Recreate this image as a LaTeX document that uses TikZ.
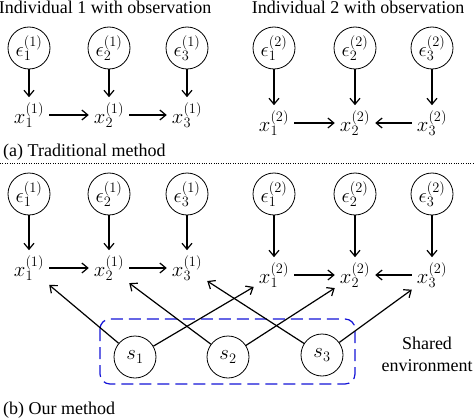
\documentclass[tikz,border=0pt]{standalone}
\usepackage{fontspec}
\setmainfont{Liberation Serif}
\usetikzlibrary{arrows.meta}
\definecolor{envblue}{RGB}{20,20,215}

\begin{document}
\begin{tikzpicture}[x=1pt, y=-1pt,
    var/.style={circle, draw, line width=0.8pt, minimum size=42pt, inner sep=0pt, font=\fontsize{20}{22}\selectfont},
    obs/.style={inner sep=5pt, font=\fontsize{21}{23}\selectfont},
    edge/.style={-{Straight Barb[length=6pt,width=10pt]}, line width=1.2pt},
    txt/.style={font=\fontsize{18}{22}\selectfont, inner sep=0pt}]
    \useasboundingbox (0,0) rectangle (474,420);

    % (a) traditional method
    \node[txt] (titlea) at (105,7) {Individual 1 with observation};
    \node[txt] (titleb) at (358,7) {Individual 2 with observation};
    \foreach \i/\px in {1/29,2/109,3/187} {
        \node[var] (ea\i) at (\px,48) {$\epsilon^{(1)}_{\i}$};
        \node[obs] (xa\i) at (\px,115) {$x^{(1)}_{\i}$};
        \draw[edge] (ea\i) -- (xa\i);
    }
    \foreach \i/\px in {1/274,2/355,3/432} {
        \node[var] (eb\i) at (\px,48) {$\epsilon^{(2)}_{\i}$};
        \node[obs] (xb\i) at (\px,123) {$x^{(2)}_{\i}$};
        \draw[edge] (eb\i) -- (xb\i);
    }
    \draw[edge] (xa1) -- (xa2);
    \draw[edge] (xa2) -- (xa3);
    \draw[edge] (xb1) -- (xb2);
    \draw[edge] (xb3) -- (xb2);
    \node[txt, anchor=west] (capa) at (3,152) {(a) Traditional method};

    \draw[dotted] (0,163) -- (474,163);

    % (b) our method
    \foreach \i/\px in {1/29,2/109,3/187} {
        \node[var] (ec\i) at (\px,194) {$\epsilon^{(1)}_{\i}$};
        \node[obs] (xc\i) at (\px,268) {$x^{(1)}_{\i}$};
        \draw[edge] (ec\i) -- (xc\i);
    }
    \foreach \i/\px in {1/274,2/355,3/432} {
        \node[var] (ed\i) at (\px,194) {$\epsilon^{(2)}_{\i}$};
        \node[obs] (xd\i) at (\px,275) {$x^{(2)}_{\i}$};
        \draw[edge] (ed\i) -- (xd\i);
    }
    \draw[edge] (xc1) -- (xc2);
    \draw[edge] (xc2) -- (xc3);
    \draw[edge] (xd1) -- (xd2);
    \draw[edge] (xd3) -- (xd2);

    \draw[envblue, line width=1.2pt, dash pattern=on 12pt off 6pt, rounded corners=10pt] (100,319) rectangle (355,384);
    \node[var] (s1) at (135,357) {$s_1$};
    \node[var] (s2) at (228,357) {$s_2$};
    \node[var] (s3) at (322,355) {$s_3$};
    \foreach \i in {1,2,3} {
        \draw[edge] (s\i) -- (xc\i);
        \draw[edge] (s\i) -- (xd\i);
    }
    \node[txt, align=center] (shared) at (427,354) {Shared\\environment};
    \node[txt, anchor=west] (capb) at (3,410) {(b) Our method};
\end{tikzpicture}
\end{document}
